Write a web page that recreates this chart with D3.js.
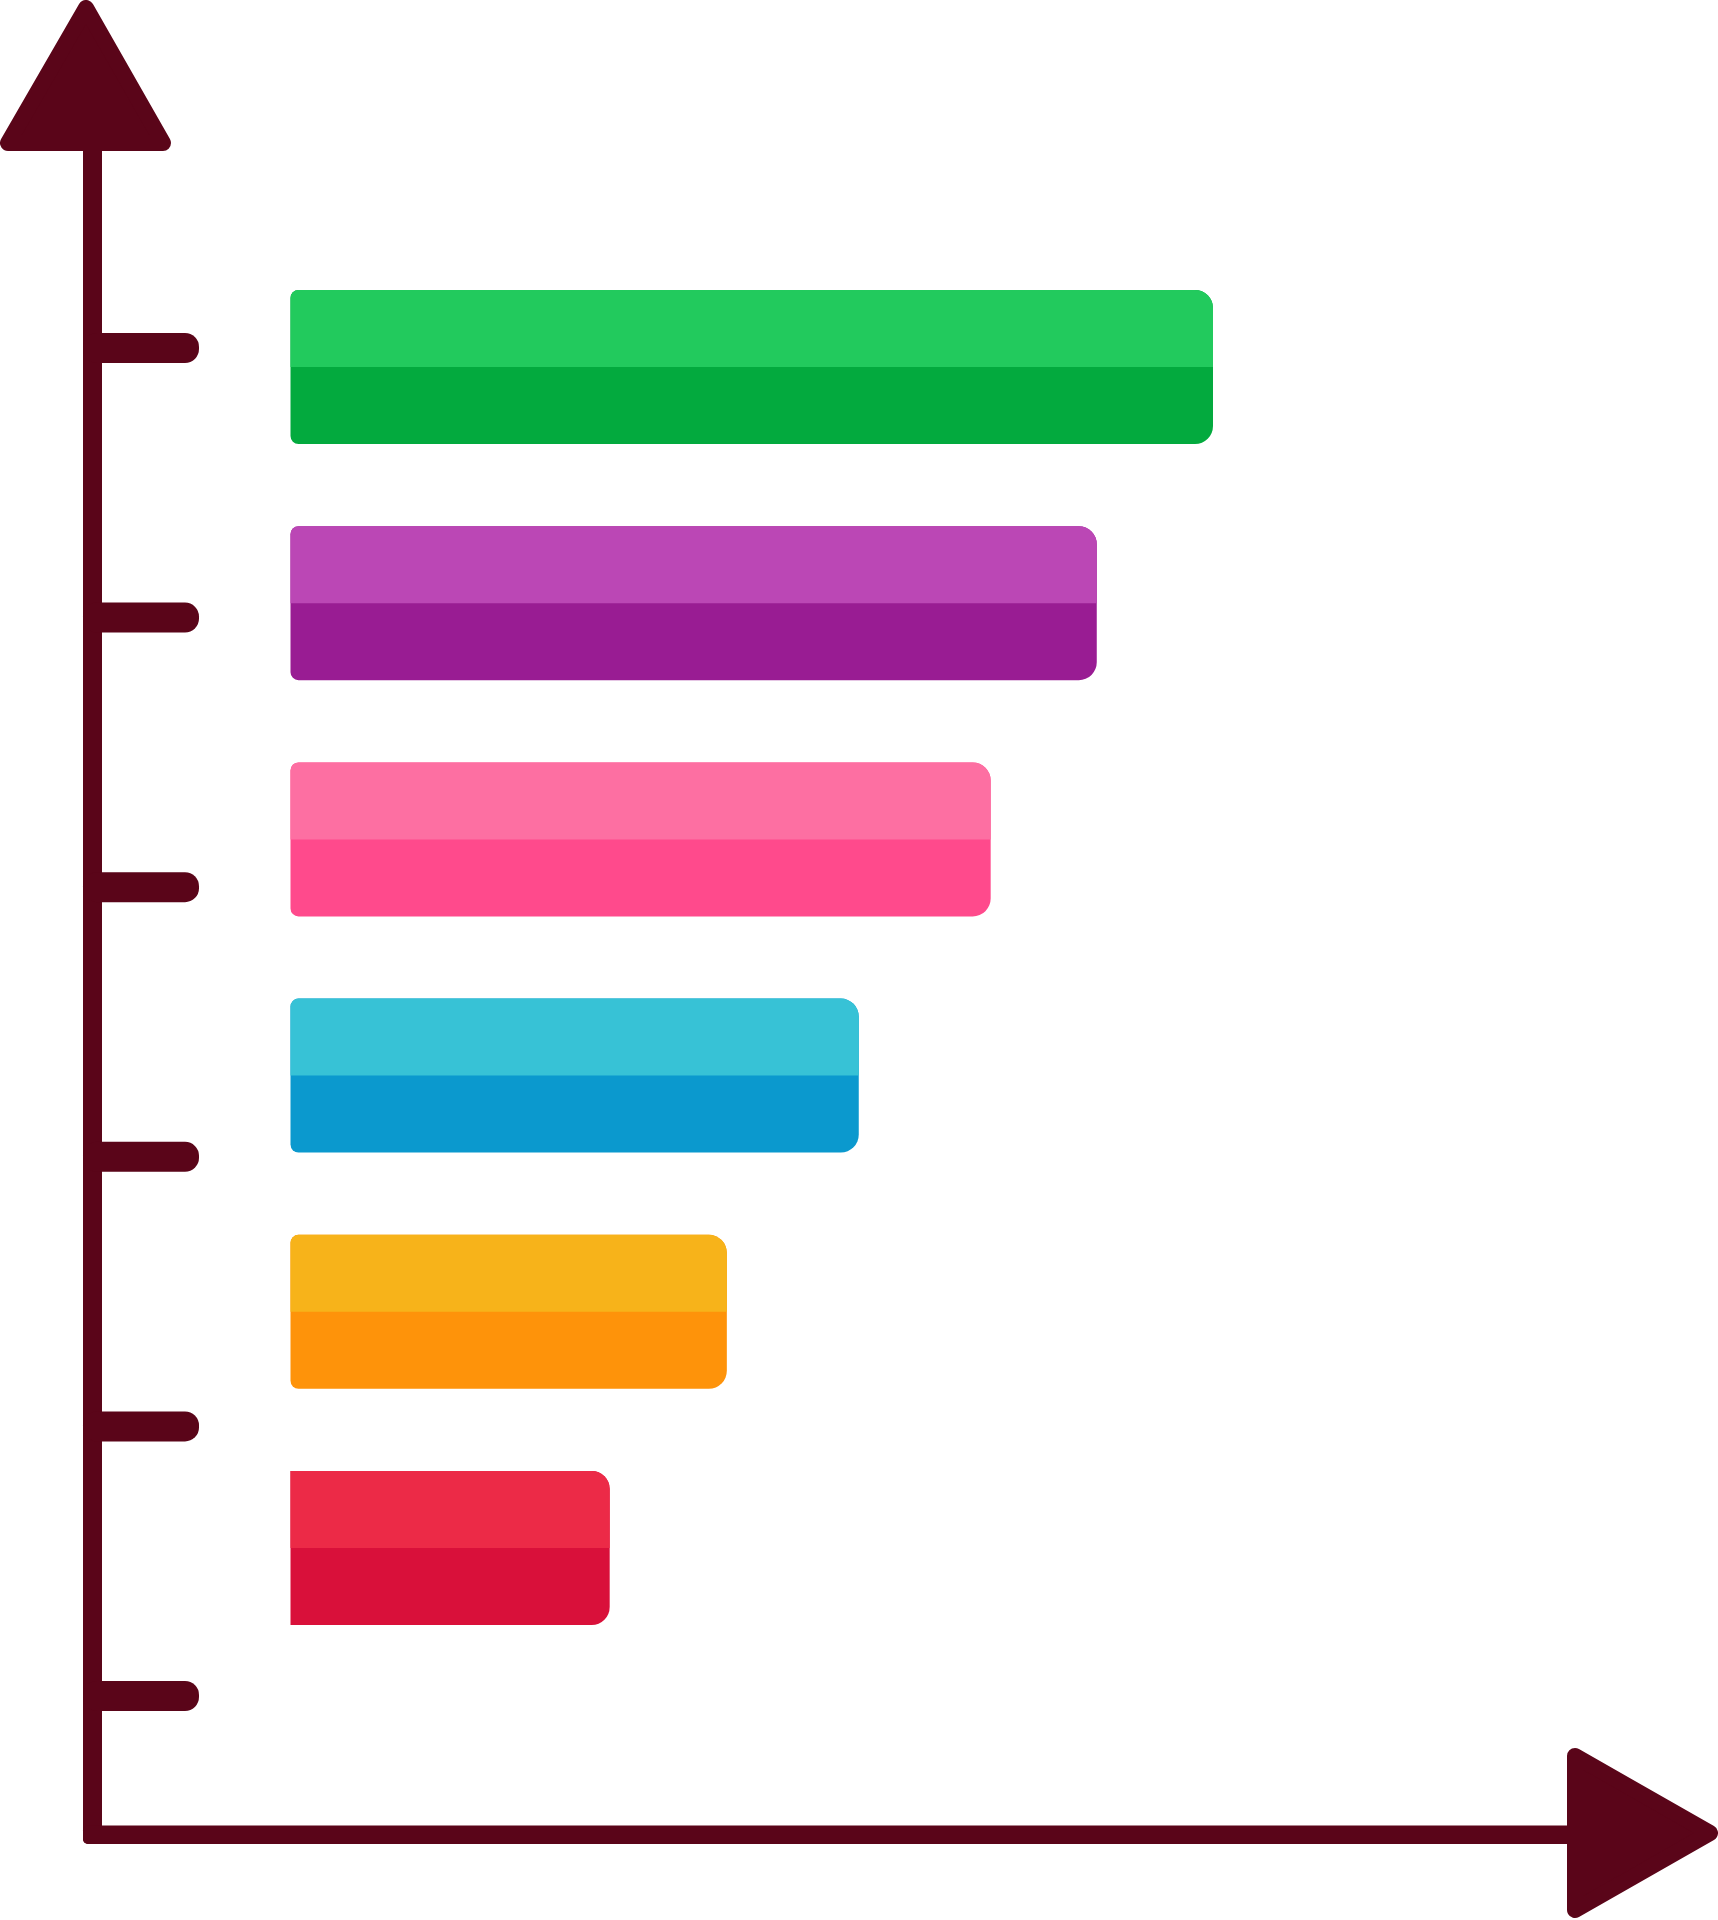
<!DOCTYPE html>
<html>
<head>
<meta charset="utf-8">
<script src="https://cdn.jsdelivr.net/npm/d3@7"></script>
<style>
  body { margin: 0; background: #fff; }
  svg { display: block; }
</style>
</head>
<body>
<svg id="grafico" width="1718" height="1920"></svg>
<script>
// datos
const categorias = ["A", "B", "C", "D", "E", "F"];
const valores = [100, 87.4, 75.9, 61.6, 47.3, 34.6];
const coloresClaros = ["#22ca5d", "#bb47b5", "#fd6fa2", "#37c2d6", "#f7b31a", "#ec2a47"];
const coloresOscuros = ["#03aa3e", "#991c93", "#ff4a8c", "#0b99ce", "#fe930a", "#d9103a"];
const ticksY = [1, 2, 3, 4, 5, 6];

const colorEje = "#5a0519";

const svg = d3.select("#grafico");

const x = d3.scaleLinear().domain([0, 100]).range([290.5, 1213]);
const y = d3.scaleBand().domain(categorias).range([290, 1625]).paddingInner(0.348).paddingOuter(0);
const yTicks = d3.scaleLinear().domain([1, 6]).range([1696, 348]);

// rectangulo con esquinas distintas
function rectRedondeado(x0, y0, w, h, tl, tr, br, bl) {
  const p = d3.path();
  p.moveTo(x0 + tl, y0);
  p.lineTo(x0 + w - tr, y0);
  if (tr) p.arcTo(x0 + w, y0, x0 + w, y0 + tr, tr);
  p.lineTo(x0 + w, y0 + h - br);
  if (br) p.arcTo(x0 + w, y0 + h, x0 + w - br, y0 + h, br);
  p.lineTo(x0 + bl, y0 + h);
  if (bl) p.arcTo(x0, y0 + h, x0, y0 + h - bl, bl);
  p.lineTo(x0, y0 + tl);
  if (tl) p.arcTo(x0, y0, x0 + tl, y0, tl);
  p.closePath();
  return p.toString();
}

const barras = categorias.map((c, i) => ({
  cat: c, valor: valores[i], claro: coloresClaros[i], oscuro: coloresOscuros[i],
  rl: i === categorias.length - 1 ? 0 : 8
}));

const g = svg.append("g");

// mitad inferior (oscura) = barra completa
g.selectAll("path.oscura")
  .data(barras)
  .enter()
  .append("path")
  .attr("class", "oscura")
  .attr("fill", d => d.oscuro)
  .attr("d", d => rectRedondeado(x(0), y(d.cat), x(d.valor) - x(0), y.bandwidth(), d.rl, 18, 18, d.rl));

// mitad superior (clara)
g.selectAll("path.clara")
  .data(barras)
  .enter()
  .append("path")
  .attr("class", "clara")
  .attr("fill", d => d.claro)
  .attr("d", d => rectRedondeado(x(0), y(d.cat), x(d.valor) - x(0), y.bandwidth() / 2, d.rl, 18, 0, 0));

// ejes
const ejes = svg.append("g").attr("fill", colorEje);

ejes.append("rect")
  .attr("x", 83).attr("y", 140).attr("width", 19).attr("height", 1844 - 140).attr("rx", 5);
ejes.append("rect")
  .attr("x", 83).attr("y", 1825.5).attr("width", 1575 - 83).attr("height", 18.5).attr("rx", 5);

ejes.selectAll("rect.tick")
  .data(ticksY)
  .enter()
  .append("rect")
  .attr("class", "tick")
  .attr("x", 83)
  .attr("y", d => yTicks(d) - 15)
  .attr("width", 199 - 83)
  .attr("height", 30)
  .attr("rx", 14);

// flechas
ejes.append("polygon")
  .attr("points", "86,8 8,143 163,143")
  .attr("stroke", colorEje).attr("stroke-width", 16).attr("stroke-linejoin", "round");
ejes.append("polygon")
  .attr("points", "1575,1756 1710,1833 1575,1910")
  .attr("stroke", colorEje).attr("stroke-width", 16).attr("stroke-linejoin", "round");
</script>
</body>
</html>
